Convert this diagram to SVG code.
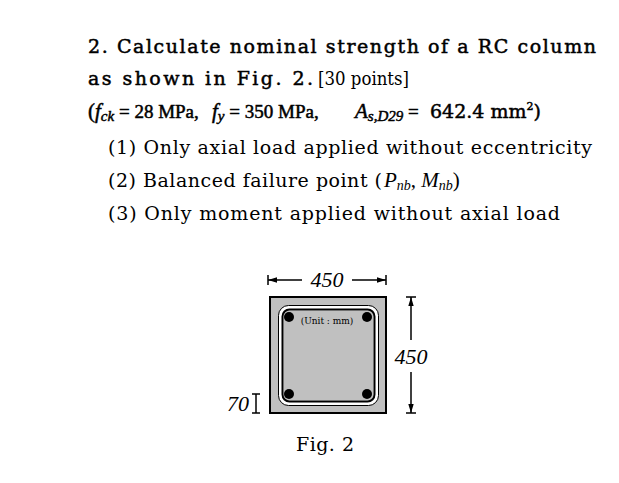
<svg xmlns="http://www.w3.org/2000/svg" width="619" height="483" viewBox="0 0 619 483">
<style>
text{font-family:"DejaVu Serif","Liberation Serif",serif;fill:#000}
.n{font-size:19px}
.b{stroke:#000;stroke-width:0.5}
.t{font-family:"Liberation Serif",serif;font-size:21px}
.d{font-family:"Liberation Serif",serif;font-size:22px;font-style:italic}
.dim{stroke:#000;stroke-width:1.5;fill:none}
</style>
<defs>
<marker id="a" viewBox="0 0 10 10" refX="10" refY="5" markerWidth="6" markerHeight="6" orient="auto-start-reverse"><path d="M0,2 L10,5 L0,8z" fill="#000"/></marker>
</defs>
<rect width="619" height="483" fill="#fff"/>
<text class="n b" x="88" y="53" textLength="508" lengthAdjust="spacing">2. Calculate nominal strength of a RC column</text>
<text class="n b" x="88" y="85" textLength="225" lengthAdjust="spacing">as shown in Fig. 2.</text>
<text class="n" x="318" y="85" textLength="91" lengthAdjust="spacingAndGlyphs">[30 points]</text>
<text x="88" y="118" class="t b">(<tspan font-style="italic">f</tspan><tspan font-style="italic" font-size="15" dy="3">ck</tspan><tspan dy="-3" font-size="19"> = 28 MPa,</tspan></text>
<text x="212" y="118" class="t b"><tspan font-style="italic">f</tspan><tspan font-style="italic" font-size="15" dy="3">y</tspan><tspan dy="-3" font-size="19"> = 350 MPa,</tspan></text>
<text x="355" y="118" class="t b"><tspan font-style="italic">A</tspan><tspan font-style="italic" font-size="15" dy="3">s,D29</tspan><tspan dy="-3" font-size="19"> = </tspan></text>
<text class="n b" x="430" y="118">642.4 mm<tspan font-size="11" dy="-8">2</tspan><tspan dy="8">)</tspan></text>
<text class="n" x="108" y="154" textLength="484" lengthAdjust="spacing">(1) Only axial load applied without eccentricity</text>
<text class="n" x="108" y="187" textLength="274" lengthAdjust="spacing">(2) Balanced failure point (</text>
<text class="t" x="384" y="187"><tspan font-style="italic">P</tspan><tspan font-style="italic" font-size="14" dy="3">nb</tspan><tspan dy="-3">,  </tspan><tspan font-style="italic">M</tspan><tspan font-style="italic" font-size="14" dy="3">nb</tspan><tspan dy="-3">)</tspan></text>
<text class="n" x="108" y="220" textLength="452" lengthAdjust="spacing">(3) Only moment applied without axial load</text>
<g id="column">
<rect x="270" y="297" width="116" height="116" fill="#c0c0c0" stroke="#000" stroke-width="2"/>
<rect x="281" y="308" width="95" height="95" rx="8" fill="none" stroke="#fff" stroke-width="5"/>
<rect x="282.5" y="309.5" width="92" height="92" rx="7" fill="none" stroke="#000" stroke-width="2"/>
<rect x="278.5" y="305.5" width="100" height="100" rx="10" fill="none" stroke="#000" stroke-width="1"/>
<circle cx="289" cy="317" r="5"/><circle cx="367" cy="317" r="5"/>
<circle cx="289" cy="394" r="5"/><circle cx="367" cy="394" r="5"/>
<text x="327" y="324" font-size="9" font-family="Liberation Serif" text-anchor="middle">(Unit : mm)</text>
</g>
<g id="connectors">
<path class="dim" d="M268,280 H302" marker-start="url(#a)"/>
<path class="dim" d="M352,280 H386" marker-end="url(#a)"/>
<path class="dim" d="M268,275 V285 M386,275 V285"/>
<path class="dim" d="M411,297 V340" marker-start="url(#a)"/>
<path class="dim" d="M411,372 V413" marker-end="url(#a)"/>
<path class="dim" d="M406,297 H416 M406,413 H416 M252,394 H260 M252,413 H260"/>
<path class="dim" d="M256,394 V413"/>
</g>
<text class="d" x="327" y="287" text-anchor="middle">450</text>
<text class="d" x="411" y="364" text-anchor="middle">450</text>
<text class="d" x="238" y="411" text-anchor="middle">70</text>
<text x="325" y="451" font-size="19" text-anchor="middle" textLength="58" lengthAdjust="spacing">Fig.  2</text>
</svg>
